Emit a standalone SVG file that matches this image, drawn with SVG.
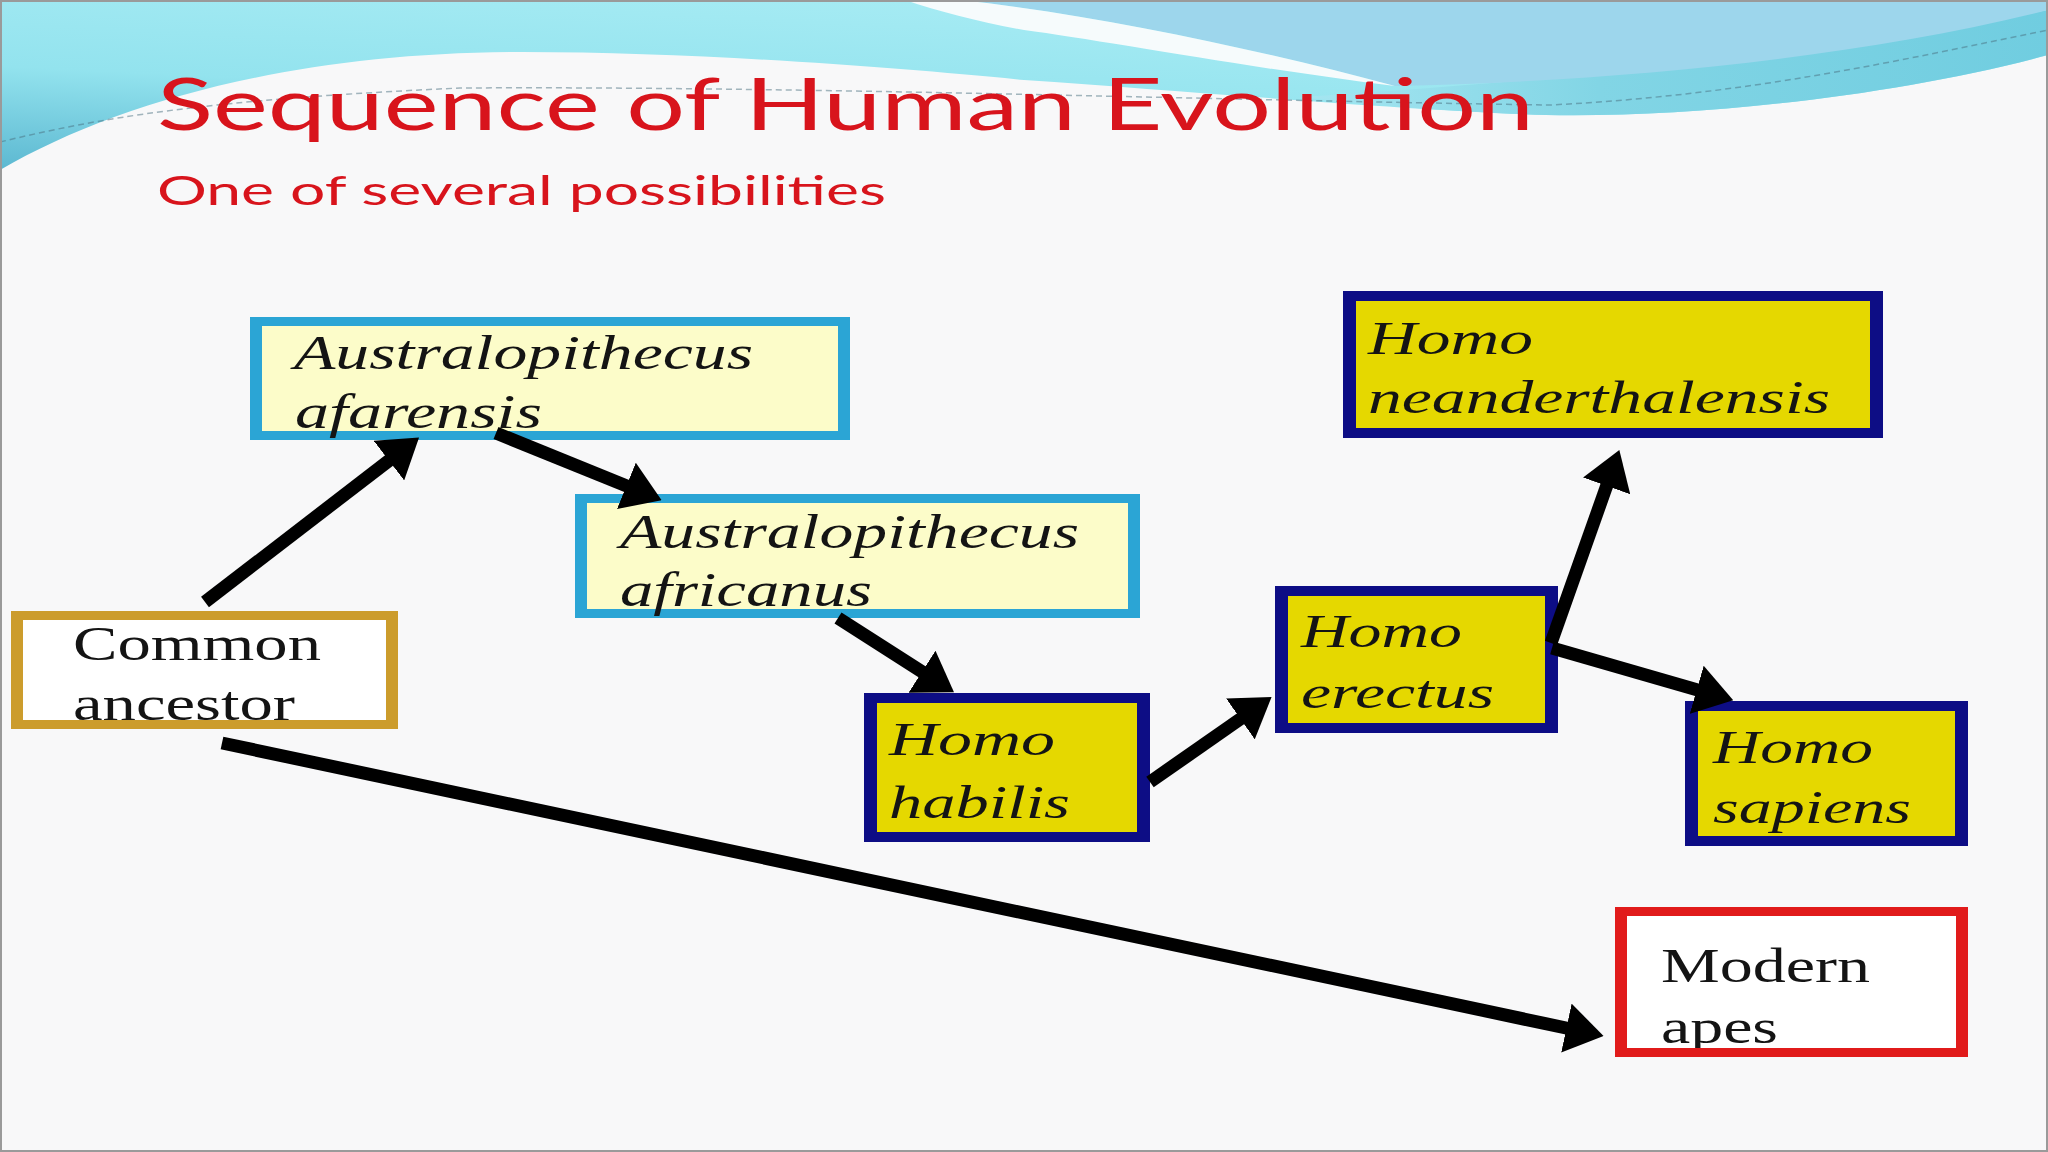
<svg xmlns="http://www.w3.org/2000/svg" width="2048" height="1152" viewBox="0 0 2048 1152">
<style>
.title{font-family:"Lato","Open Sans",sans-serif;fill:#d8141c}
.lbl{font-family:"Liberation Serif","Times New Roman",serif;fill:#141414}
.it{font-style:italic}
.gold{fill:#cc9c2c}.cyan{fill:#2ba5d5}.navy{fill:#0d0d85}.red{fill:#e11b1b}
.white{fill:#ffffff}.pale{fill:#fcfcc9}.yel{fill:#e5d800}
.conn{stroke:#000;stroke-width:13;fill:none;marker-end:url(#ah)}
</style>
<defs>
<marker id="ah" markerUnits="userSpaceOnUse" markerWidth="38" markerHeight="50" refX="19" refY="25" orient="auto">
<path d="M0,0 L38,25 L0,50 Z" fill="#000"/>
</marker>
<linearGradient id="sky" x1="0" y1="1" x2="0.6" y2="0">
<stop offset="0" stop-color="#5cb8d1"/>
<stop offset="0.45" stop-color="#93e3ee"/>
<stop offset="1" stop-color="#a8ecf4"/>
</linearGradient>
<linearGradient id="band" x1="0" y1="0" x2="1" y2="0">
<stop offset="0" stop-color="#a6e6f1"/>
<stop offset="0.4" stop-color="#82d5e5"/>
<stop offset="1" stop-color="#70cde0"/>
</linearGradient>
<clipPath id="apesClip"><rect x="1627" y="916" width="329" height="132"/></clipPath>
</defs>

<g id="background">
<rect x="0" y="0" width="2048" height="1152" fill="#f8f8f9"/>
<path d="M0,170 C120,100 300,52 523,52 C700,52 900,68 1024,80 C1200,92 1400,110 1546,115 C1700,118 1900,95 2048,55 L2048,0 L0,0 Z" fill="url(#sky)"/>
<path d="M1300,97 C1500,84 1800,60 2048,10 L2048,55 C1900,95 1700,118 1546,115 C1450,112 1370,105 1300,97 Z" fill="url(#band)"/>
<path d="M960,0 C1100,15 1260,50 1395,86 C1600,82 1850,60 2048,10 L2048,0 Z" fill="#9dd6ec"/>
<path d="M905,0 L960,0 C1100,15 1260,50 1395,86 C1250,68 1100,40 1024,30 C980,22 940,12 905,0 Z" fill="#f6fbfc"/>
<path d="M0,142 C100,118 200,100 460,88 C800,86 1200,100 1550,105 C1750,95 1900,60 2048,30" fill="none" stroke="#4a6f7f" stroke-width="1.5" stroke-dasharray="6 4" opacity="0.5"/>
<rect x="1" y="1" width="2046" height="1150" fill="none" stroke="#9a9a9a" stroke-width="2"/>
</g>

<g id="title">
<text class="title" x="157" y="130" font-size="72" textLength="1377" lengthAdjust="spacingAndGlyphs">Sequence of Human Evolution</text>
<text class="title" x="157" y="205" font-size="41" textLength="729" lengthAdjust="spacingAndGlyphs">One of several possibilities</text>
</g>

<g id="node-common-ancestor">
<rect class="gold" x="11" y="611" width="387" height="118"/>
<rect class="white" x="23" y="620" width="363" height="100"/>
<text class="lbl" x="73" y="660" font-size="49" textLength="248" lengthAdjust="spacingAndGlyphs">Common</text>
<text class="lbl" x="73" y="720" font-size="49" textLength="222" lengthAdjust="spacingAndGlyphs">ancestor</text>
</g>

<g id="node-afarensis">
<rect class="cyan" x="250" y="317" width="600" height="123"/>
<rect class="pale" x="262" y="326" width="576" height="105"/>
<text class="lbl it" x="294" y="369" font-size="48" textLength="459" lengthAdjust="spacingAndGlyphs">Australopithecus</text>
<text class="lbl it" x="295" y="428" font-size="48" textLength="247" lengthAdjust="spacingAndGlyphs">afarensis</text>
</g>

<g id="node-africanus">
<rect class="cyan" x="575" y="494" width="565" height="124"/>
<rect class="pale" x="587" y="503" width="541" height="106"/>
<text class="lbl it" x="620" y="548" font-size="48" textLength="459" lengthAdjust="spacingAndGlyphs">Australopithecus</text>
<text class="lbl it" x="620" y="606" font-size="48" textLength="252" lengthAdjust="spacingAndGlyphs">africanus</text>
</g>

<g id="node-habilis">
<rect class="navy" x="864" y="693" width="286" height="149"/>
<rect class="yel" x="877" y="703" width="260" height="129"/>
<text class="lbl it" x="889" y="755" font-size="47" textLength="166" lengthAdjust="spacingAndGlyphs">Homo</text>
<text class="lbl it" x="889" y="818" font-size="47" textLength="181" lengthAdjust="spacingAndGlyphs">habilis</text>
</g>

<g id="node-erectus">
<rect class="navy" x="1275" y="586" width="283" height="147"/>
<rect class="yel" x="1288" y="596" width="257" height="127"/>
<text class="lbl it" x="1301" y="647" font-size="47" textLength="161" lengthAdjust="spacingAndGlyphs">Homo</text>
<text class="lbl it" x="1301" y="708" font-size="47" textLength="193" lengthAdjust="spacingAndGlyphs">erectus</text>
</g>

<g id="node-neanderthalensis">
<rect class="navy" x="1343" y="291" width="540" height="147"/>
<rect class="yel" x="1356" y="301" width="514" height="127"/>
<text class="lbl it" x="1368" y="354" font-size="47" textLength="165" lengthAdjust="spacingAndGlyphs">Homo</text>
<text class="lbl it" x="1368" y="413" font-size="47" textLength="462" lengthAdjust="spacingAndGlyphs">neanderthalensis</text>
</g>

<g id="node-sapiens">
<rect class="navy" x="1685" y="701" width="283" height="145"/>
<rect class="yel" x="1698" y="711" width="257" height="125"/>
<text class="lbl it" x="1713" y="763" font-size="47" textLength="160" lengthAdjust="spacingAndGlyphs">Homo</text>
<text class="lbl it" x="1713" y="823" font-size="47" textLength="198" lengthAdjust="spacingAndGlyphs">sapiens</text>
</g>

<g id="node-modern-apes">
<rect class="red" x="1615" y="907" width="353" height="150"/>
<rect class="white" x="1627" y="916" width="329" height="132"/>
<g clip-path="url(#apesClip)">
<text class="lbl" x="1661" y="982" font-size="48" textLength="209" lengthAdjust="spacingAndGlyphs">Modern</text>
<text class="lbl" x="1661" y="1043" font-size="48" textLength="117" lengthAdjust="spacingAndGlyphs">apes</text>
</g>
</g>

<g id="connectors">
<line class="conn" x1="205" y1="602" x2="404" y2="449"/>
<line class="conn" x1="496" y1="433" x2="644" y2="493"/>
<line class="conn" x1="838" y1="618" x2="938" y2="682"/>
<line class="conn" x1="1150" y1="782" x2="1256" y2="708"/>
<line class="conn" x1="1551" y1="643" x2="1613" y2="468"/>
<line class="conn" x1="1552" y1="648" x2="1715" y2="695"/>
<line class="conn" x1="222" y1="743" x2="1585" y2="1032"/>
</g>
</svg>
